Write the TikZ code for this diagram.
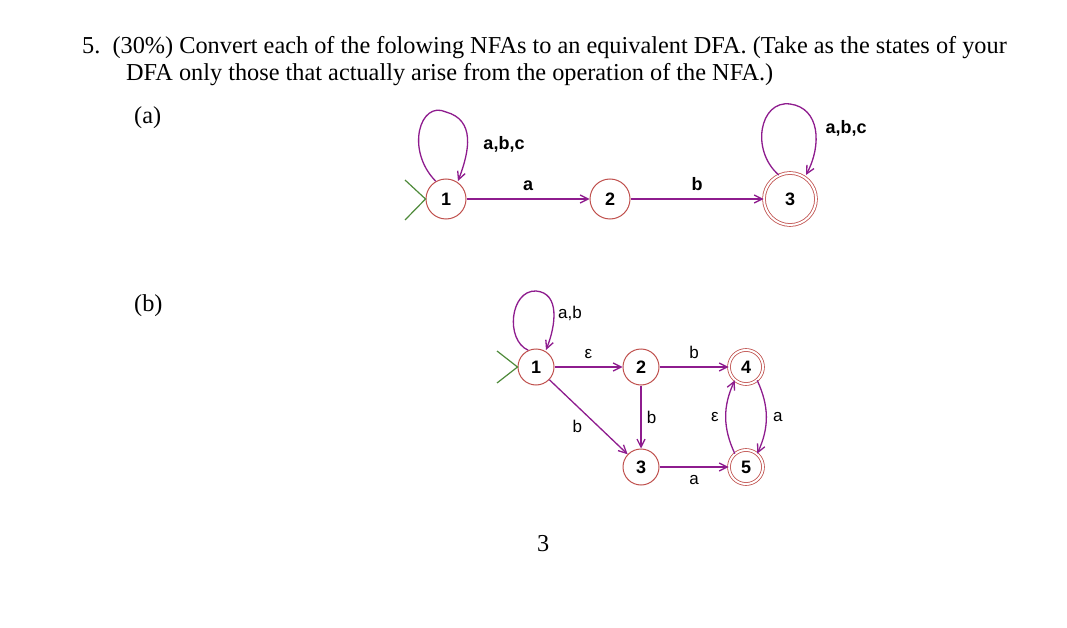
\documentclass[tikz,border=0pt]{standalone}
\usepackage{fontspec}
\setmainfont{Liberation Serif}
\setsansfont{Liberation Sans}
\usetikzlibrary{arrows.meta}
\definecolor{st}{HTML}{C0504D}
\definecolor{ar}{HTML}{8E1C8E}
\definecolor{gr}{HTML}{4E8A3A}
\begin{document}
\begin{tikzpicture}[x=1pt,y=-1pt,
  stA/.style={circle,draw=st,line width=1pt,minimum size=40pt,inner sep=0pt,font=\sffamily\bfseries\fontsize{18}{18}\selectfont},
  stB/.style={circle,draw=st,line width=1pt,minimum size=36pt,inner sep=0pt,font=\sffamily\bfseries\fontsize{18}{18}\selectfont},
  acc/.style={double=white,double distance=2pt,line width=0.8pt},
  tr/.style={draw=ar,line width=1.3pt,-{Straight Barb[length=8pt,width=8pt]}},
  lbA/.style={font=\sffamily\bfseries\fontsize{18}{18}\selectfont},
  lbB/.style={font=\sffamily\fontsize{17}{17}\selectfont},
  txt/.style={font=\fontsize{24.3}{27}\selectfont,anchor=base west,inner sep=0pt}]
\useasboundingbox[fill=white] (0,0) rectangle (1067,628);
\node[txt] (h1) at (82,54) {5.\ \ (30\%) Convert each of the folowing NFAs to an equivalent DFA. (Take as the states of your};
\node[txt] (h2) at (126,81) {DFA only those that actually arise from the operation of the NFA.)};
\node[txt] (pa) at (134,124) {(a)};
\node[txt] (pb) at (134,311) {(b)};
\node[txt] (pg) at (537,551) {3};
% (a)
\node[stA] (a1) at (446,199) {1};
\node[stA] (a2) at (610,199) {2};
\node[stA,acc,minimum size=52pt] (a3) at (790,199) {3};
\draw[gr,line width=1.2pt] (405,180) -- (a1.west) -- (405,220);
\draw[tr] (a1) -- node[lbA,above=4pt]{a} (a2);
\draw[tr] (a2) -- node[lbA,above=4pt]{b} (a3);
\draw[tr] (a1.120) .. controls (405,150) and (420,100) .. (446,112) .. controls (475,120) and (470,150) .. (458,181);
\draw[tr] (a3.115) .. controls (750,150) and (760,100) .. (790,104) .. controls (820,108) and (822,145) .. (806,175);
\node[lbA] (la1) at (504,144) {a,b,c};
\node[lbA] (la3) at (846,128) {a,b,c};
% (b)
\node[stB] (b1) at (536,367) {1};
\node[stB] (b2) at (641,367) {2};
\node[stB] (b3) at (641,467) {3};
\node[stB,acc,minimum size=34pt] (b4) at (746,367) {4};
\node[stB,acc,minimum size=34pt] (b5) at (746,467) {5};
\draw[gr,line width=1.2pt] (497,351) -- (b1.west) -- (497,383);
\draw[tr] (b1) -- node[lbB,above=4pt]{ε} (b2);
\draw[tr] (b2) -- node[lbB,above=4pt]{b} (b4);
\draw[tr] (b2) -- node[lbB,right=2pt]{b} (b3);
\draw[tr] (b1) -- node[lbB,pos=0.48,below left=1pt]{b} (b3);
\draw[tr] (b3) -- node[lbB,below=4pt]{a} (b5);
\draw[tr] (b4.-50) to[bend left=25] node[lbB,right=3pt]{a} (b5.50);
\draw[tr] (b5.130) to[bend left=25] node[lbB,left=3pt]{ε} (b4.230);
\draw[tr] (b1.115) .. controls (505,340) and (510,290) .. (536,291) .. controls (560,293) and (556,325) .. (546,350);
\node[lbB] (lb1) at (570,313) {a,b};
\end{tikzpicture}
\end{document}
